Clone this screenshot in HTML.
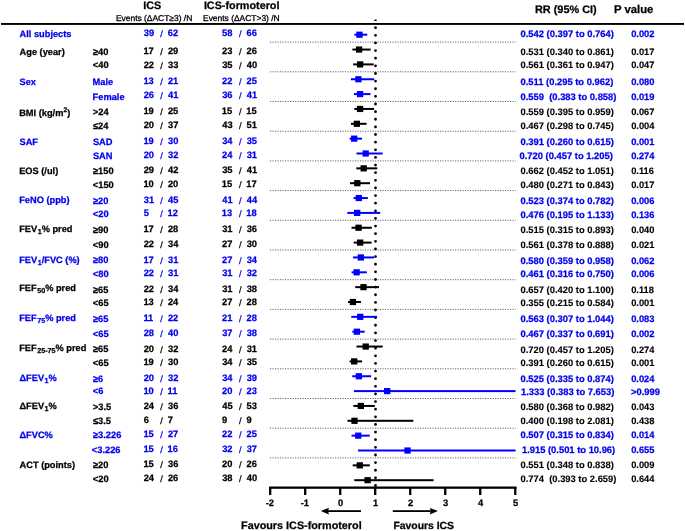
<!DOCTYPE html><html><head><meta charset="utf-8"><style>
html,body{margin:0;padding:0;background:#fff;width:685px;height:531px;overflow:hidden}
svg{display:block;text-rendering:geometricPrecision;font-family:"Liberation Sans",Arial,sans-serif;font-weight:bold}
.b{fill:#0000ee;stroke:#0000ee}.k{fill:#000;stroke:#000}
text{stroke-width:0.25px}.r.k{stroke-width:0.12px}
.t{font-size:9.3px}
.g{font-size:9.25px}
.h{font-size:10.8px}
.s{font-size:8.45px;font-weight:normal;stroke:#000;stroke-width:0.3px}
.sl{font-weight:normal;stroke-width:0.25px}.sl.b{stroke:#0000ee}.sl.k{stroke:#000}
.sub{font-size:7.2px;baseline-shift:-2.2px}
.sup{font-size:6.8px;baseline-shift:4.3px}
</style></head><body>
<svg width="685" height="531" viewBox="0 0 685 531">
<text x="143.28" y="8.80" class="h k" style="font-size:10.8px">ICS</text>
<text x="115.91" y="20.90" class="s k" style="font-size:8.45px">Events (ΔACT≥3) /N</text>
<text x="203.88" y="9.00" class="h k" style="font-size:10.8px">ICS-formoterol</text>
<text x="203.01" y="20.80" class="s k" style="font-size:8.45px">Events (ΔACT&gt;3) /N</text>
<text x="534.97" y="13.20" class="h k" style="font-size:10.9px">RR (95% CI)</text>
<text x="614.04" y="13.20" class="h k" style="font-size:11.3px">P value</text>
<rect x="1" y="23" width="683" height="1.9" fill="#000"/>
<text x="19.57" y="36.55" class="g b" style="font-size:9.25px">All subjects</text>
<text x="143.79" y="35.95" class="t b" style="font-size:9.3px">39</text>
<text x="160.30" y="36.95" class="sl b" style="font-size:9.3px">/</text>
<text x="167.86" y="35.95" class="t b" style="font-size:9.3px">62</text>
<text x="222.11" y="35.95" class="t b" style="font-size:9.3px">58</text>
<text x="238.90" y="36.95" class="sl b" style="font-size:9.3px">/</text>
<text x="246.56" y="35.95" class="t b" style="font-size:9.3px">66</text>
<text x="520.53" y="36.65" class="t r b" style="font-size:9.4px">0.542 (0.397 to 0.764)</text>
<text x="631.13" y="36.75" class="t r b" style="font-size:9.3px">0.002</text>
<text x="19.57" y="54.70" class="g k" style="font-size:9.25px">Age (year)</text>
<text x="92.98" y="54.80" class="t k" style="font-size:9.3px">≥40</text>
<text x="143.41" y="54.10" class="t k" style="font-size:9.3px">17</text>
<text x="160.30" y="55.10" class="sl k" style="font-size:9.3px">/</text>
<text x="167.88" y="54.10" class="t k" style="font-size:9.3px">29</text>
<text x="222.08" y="54.10" class="t k" style="font-size:9.3px">23</text>
<text x="238.90" y="55.10" class="sl k" style="font-size:9.3px">/</text>
<text x="246.58" y="54.10" class="t k" style="font-size:9.3px">26</text>
<text x="520.53" y="54.80" class="t r k" style="font-size:9.4px">0.531 (0.340 to 0.861)</text>
<text x="631.13" y="54.90" class="t r k" style="font-size:9.3px">0.017</text>
<text x="92.81" y="68.30" class="t k" style="font-size:9.3px">&lt;40</text>
<text x="143.68" y="67.60" class="t k" style="font-size:9.3px">22</text>
<text x="160.30" y="68.60" class="sl k" style="font-size:9.3px">/</text>
<text x="167.99" y="67.60" class="t k" style="font-size:9.3px">33</text>
<text x="222.19" y="67.60" class="t k" style="font-size:9.3px">35</text>
<text x="238.90" y="68.60" class="sl k" style="font-size:9.3px">/</text>
<text x="246.76" y="67.60" class="t k" style="font-size:9.3px">40</text>
<text x="520.53" y="68.30" class="t r k" style="font-size:9.4px">0.561 (0.361 to 0.947)</text>
<text x="631.13" y="68.40" class="t r k" style="font-size:9.3px">0.047</text>
<text x="19.53" y="84.50" class="g b" style="font-size:9.25px">Sex</text>
<text x="92.58" y="84.60" class="t b" style="font-size:9.3px">Male</text>
<text x="143.41" y="83.90" class="t b" style="font-size:9.3px">13</text>
<text x="160.30" y="84.90" class="sl b" style="font-size:9.3px">/</text>
<text x="167.88" y="83.90" class="t b" style="font-size:9.3px">21</text>
<text x="222.08" y="83.90" class="t b" style="font-size:9.3px">22</text>
<text x="238.90" y="84.90" class="sl b" style="font-size:9.3px">/</text>
<text x="246.58" y="83.90" class="t b" style="font-size:9.3px">25</text>
<text x="520.53" y="84.60" class="t r b" style="font-size:9.4px">0.511 (0.295 to 0.962)</text>
<text x="631.13" y="84.70" class="t r b" style="font-size:9.3px">0.080</text>
<text x="92.58" y="99.90" class="t b" style="font-size:9.3px">Female</text>
<text x="143.68" y="98.40" class="t b" style="font-size:9.3px">26</text>
<text x="160.30" y="99.40" class="sl b" style="font-size:9.3px">/</text>
<text x="168.06" y="98.40" class="t b" style="font-size:9.3px">41</text>
<text x="222.19" y="98.40" class="t b" style="font-size:9.3px">36</text>
<text x="238.90" y="99.40" class="sl b" style="font-size:9.3px">/</text>
<text x="246.76" y="98.40" class="t b" style="font-size:9.3px">41</text>
<text x="520.53" y="100.20" class="t r b" style="font-size:9.4px">0.559  (0.383 to 0.858)</text>
<text x="631.13" y="100.30" class="t r b" style="font-size:9.3px">0.019</text>
<text x="19.18" y="116.00" class="g k" style="font-size:9.25px">BMI (kg/m<tspan class='sup'>2</tspan><tspan>)</tspan></text>
<text x="92.81" y="114.50" class="t k" style="font-size:9.3px">&gt;24</text>
<text x="143.41" y="113.80" class="t k" style="font-size:9.3px">19</text>
<text x="160.30" y="114.80" class="sl k" style="font-size:9.3px">/</text>
<text x="167.88" y="113.80" class="t k" style="font-size:9.3px">25</text>
<text x="221.81" y="113.80" class="t k" style="font-size:9.3px">15</text>
<text x="238.90" y="114.80" class="sl k" style="font-size:9.3px">/</text>
<text x="246.31" y="113.80" class="t k" style="font-size:9.3px">15</text>
<text x="520.53" y="114.50" class="t r k" style="font-size:9.4px">0.559 (0.395 to 0.959)</text>
<text x="631.13" y="114.60" class="t r k" style="font-size:9.3px">0.067</text>
<text x="92.98" y="128.75" class="t k" style="font-size:9.3px">≤24</text>
<text x="143.68" y="128.05" class="t k" style="font-size:9.3px">20</text>
<text x="160.30" y="129.05" class="sl k" style="font-size:9.3px">/</text>
<text x="167.99" y="128.05" class="t k" style="font-size:9.3px">37</text>
<text x="222.26" y="128.05" class="t k" style="font-size:9.3px">43</text>
<text x="238.90" y="129.05" class="sl k" style="font-size:9.3px">/</text>
<text x="246.61" y="128.05" class="t k" style="font-size:9.3px">51</text>
<text x="520.53" y="128.75" class="t r k" style="font-size:9.4px">0.467 (0.298 to 0.745)</text>
<text x="631.13" y="128.85" class="t r k" style="font-size:9.3px">0.004</text>
<text x="19.53" y="144.80" class="g b" style="font-size:9.25px">SAF</text>
<text x="92.93" y="144.80" class="t b" style="font-size:9.3px">SAD</text>
<text x="143.41" y="143.70" class="t b" style="font-size:9.3px">19</text>
<text x="160.30" y="144.70" class="sl b" style="font-size:9.3px">/</text>
<text x="167.99" y="143.70" class="t b" style="font-size:9.3px">30</text>
<text x="222.19" y="143.70" class="t b" style="font-size:9.3px">34</text>
<text x="238.90" y="144.70" class="sl b" style="font-size:9.3px">/</text>
<text x="246.69" y="143.70" class="t b" style="font-size:9.3px">35</text>
<text x="520.53" y="145.30" class="t r b" style="font-size:9.4px">0.391 (0.260 to 0.615)</text>
<text x="631.13" y="145.40" class="t r b" style="font-size:9.3px">0.001</text>
<text x="92.93" y="159.05" class="t b" style="font-size:9.3px">SAN</text>
<text x="143.68" y="157.95" class="t b" style="font-size:9.3px">20</text>
<text x="160.30" y="158.95" class="sl b" style="font-size:9.3px">/</text>
<text x="167.99" y="157.95" class="t b" style="font-size:9.3px">32</text>
<text x="222.08" y="157.95" class="t b" style="font-size:9.3px">24</text>
<text x="238.90" y="158.95" class="sl b" style="font-size:9.3px">/</text>
<text x="246.69" y="157.95" class="t b" style="font-size:9.3px">31</text>
<text x="519.53" y="159.25" class="t r b" style="font-size:9.4px">0.720 (0.457 to 1.205)</text>
<text x="631.13" y="159.35" class="t r b" style="font-size:9.3px">0.274</text>
<text x="19.18" y="174.00" class="g k" style="font-size:9.25px">EOS (/ul)</text>
<text x="92.98" y="173.80" class="t k" style="font-size:9.3px">≥150</text>
<text x="143.68" y="172.80" class="t k" style="font-size:9.3px">29</text>
<text x="160.30" y="173.80" class="sl k" style="font-size:9.3px">/</text>
<text x="168.06" y="172.80" class="t k" style="font-size:9.3px">42</text>
<text x="222.19" y="172.80" class="t k" style="font-size:9.3px">35</text>
<text x="238.90" y="173.80" class="sl k" style="font-size:9.3px">/</text>
<text x="246.76" y="172.80" class="t k" style="font-size:9.3px">41</text>
<text x="520.53" y="173.50" class="t r k" style="font-size:9.4px">0.662 (0.452 to 1.051)</text>
<text x="631.13" y="173.60" class="t r k" style="font-size:9.3px">0.116</text>
<text x="92.81" y="187.90" class="t k" style="font-size:9.3px">&lt;150</text>
<text x="143.41" y="186.90" class="t k" style="font-size:9.3px">10</text>
<text x="160.30" y="187.90" class="sl k" style="font-size:9.3px">/</text>
<text x="167.88" y="186.90" class="t k" style="font-size:9.3px">20</text>
<text x="221.81" y="186.90" class="t k" style="font-size:9.3px">15</text>
<text x="238.90" y="187.90" class="sl k" style="font-size:9.3px">/</text>
<text x="246.31" y="186.90" class="t k" style="font-size:9.3px">17</text>
<text x="520.53" y="187.60" class="t r k" style="font-size:9.4px">0.480 (0.271 to 0.843)</text>
<text x="631.13" y="187.70" class="t r k" style="font-size:9.3px">0.017</text>
<text x="19.18" y="203.35" class="g b" style="font-size:9.25px">FeNO (ppb)</text>
<text x="92.98" y="204.25" class="t b" style="font-size:9.3px">≥20</text>
<text x="143.79" y="202.75" class="t b" style="font-size:9.3px">31</text>
<text x="160.30" y="203.75" class="sl b" style="font-size:9.3px">/</text>
<text x="168.06" y="202.75" class="t b" style="font-size:9.3px">45</text>
<text x="222.26" y="202.75" class="t b" style="font-size:9.3px">41</text>
<text x="238.90" y="203.75" class="sl b" style="font-size:9.3px">/</text>
<text x="246.76" y="202.75" class="t b" style="font-size:9.3px">44</text>
<text x="520.53" y="204.35" class="t r b" style="font-size:9.4px">0.523 (0.374 to 0.782)</text>
<text x="631.13" y="204.45" class="t r b" style="font-size:9.3px">0.006</text>
<text x="92.81" y="217.10" class="t b" style="font-size:9.3px">&lt;20</text>
<text x="143.71" y="216.40" class="t b" style="font-size:9.3px">5</text>
<text x="160.30" y="217.40" class="sl b" style="font-size:9.3px">/</text>
<text x="167.61" y="216.40" class="t b" style="font-size:9.3px">12</text>
<text x="221.81" y="216.40" class="t b" style="font-size:9.3px">13</text>
<text x="238.90" y="217.40" class="sl b" style="font-size:9.3px">/</text>
<text x="246.31" y="216.40" class="t b" style="font-size:9.3px">18</text>
<text x="520.53" y="217.60" class="t r b" style="font-size:9.4px">0.476 (0.195 to 1.133)</text>
<text x="631.13" y="217.70" class="t r b" style="font-size:9.3px">0.136</text>
<text x="19.18" y="232.10" class="g k" style="font-size:9.25px">FEV<tspan class='sub' dx='0.5'>1</tspan><tspan>% pred</tspan></text>
<text x="92.98" y="232.70" class="t k" style="font-size:9.3px">≥90</text>
<text x="143.41" y="232.00" class="t k" style="font-size:9.3px">17</text>
<text x="160.30" y="233.00" class="sl k" style="font-size:9.3px">/</text>
<text x="167.88" y="232.00" class="t k" style="font-size:9.3px">28</text>
<text x="222.19" y="232.00" class="t k" style="font-size:9.3px">31</text>
<text x="238.90" y="233.00" class="sl k" style="font-size:9.3px">/</text>
<text x="246.69" y="232.00" class="t k" style="font-size:9.3px">36</text>
<text x="520.53" y="232.70" class="t r k" style="font-size:9.4px">0.515 (0.315 to 0.893)</text>
<text x="631.13" y="232.80" class="t r k" style="font-size:9.3px">0.040</text>
<text x="92.81" y="247.65" class="t k" style="font-size:9.3px">&lt;90</text>
<text x="143.68" y="246.95" class="t k" style="font-size:9.3px">22</text>
<text x="160.30" y="247.95" class="sl k" style="font-size:9.3px">/</text>
<text x="167.99" y="246.95" class="t k" style="font-size:9.3px">34</text>
<text x="222.08" y="246.95" class="t k" style="font-size:9.3px">27</text>
<text x="238.90" y="247.95" class="sl k" style="font-size:9.3px">/</text>
<text x="246.69" y="246.95" class="t k" style="font-size:9.3px">30</text>
<text x="520.53" y="247.65" class="t r k" style="font-size:9.4px">0.561 (0.378 to 0.888)</text>
<text x="631.13" y="247.75" class="t r k" style="font-size:9.3px">0.021</text>
<text x="19.18" y="263.30" class="g b" style="font-size:9.25px">FEV<tspan class='sub' dx='0.5'>1</tspan><tspan>/FVC (%)</tspan></text>
<text x="92.98" y="263.40" class="t b" style="font-size:9.3px">≥80</text>
<text x="143.41" y="262.70" class="t b" style="font-size:9.3px">17</text>
<text x="160.30" y="263.70" class="sl b" style="font-size:9.3px">/</text>
<text x="167.99" y="262.70" class="t b" style="font-size:9.3px">31</text>
<text x="222.08" y="262.70" class="t b" style="font-size:9.3px">27</text>
<text x="238.90" y="263.70" class="sl b" style="font-size:9.3px">/</text>
<text x="246.69" y="262.70" class="t b" style="font-size:9.3px">34</text>
<text x="520.53" y="264.30" class="t r b" style="font-size:9.4px">0.580 (0.359 to 0.958)</text>
<text x="631.13" y="264.40" class="t r b" style="font-size:9.3px">0.062</text>
<text x="92.81" y="276.60" class="t b" style="font-size:9.3px">&lt;80</text>
<text x="143.68" y="275.90" class="t b" style="font-size:9.3px">22</text>
<text x="160.30" y="276.90" class="sl b" style="font-size:9.3px">/</text>
<text x="167.99" y="275.90" class="t b" style="font-size:9.3px">31</text>
<text x="222.19" y="275.90" class="t b" style="font-size:9.3px">31</text>
<text x="238.90" y="276.90" class="sl b" style="font-size:9.3px">/</text>
<text x="246.69" y="275.90" class="t b" style="font-size:9.3px">32</text>
<text x="520.53" y="276.90" class="t r b" style="font-size:9.4px">0.461 (0.316 to 0.750)</text>
<text x="631.13" y="277.00" class="t r b" style="font-size:9.3px">0.006</text>
<text x="19.18" y="291.30" class="g k" style="font-size:9.25px">FEF<tspan class='sub' dx='0.5'>50</tspan><tspan>% pred</tspan></text>
<text x="92.98" y="292.60" class="t k" style="font-size:9.3px">≥65</text>
<text x="143.68" y="291.90" class="t k" style="font-size:9.3px">22</text>
<text x="160.30" y="292.90" class="sl k" style="font-size:9.3px">/</text>
<text x="167.99" y="291.90" class="t k" style="font-size:9.3px">34</text>
<text x="222.19" y="291.90" class="t k" style="font-size:9.3px">31</text>
<text x="238.90" y="292.90" class="sl k" style="font-size:9.3px">/</text>
<text x="246.69" y="291.90" class="t k" style="font-size:9.3px">38</text>
<text x="520.53" y="292.60" class="t r k" style="font-size:9.4px">0.657 (0.420 to 1.100)</text>
<text x="631.13" y="292.70" class="t r k" style="font-size:9.3px">0.118</text>
<text x="92.81" y="305.70" class="t k" style="font-size:9.3px">&lt;65</text>
<text x="143.41" y="305.00" class="t k" style="font-size:9.3px">13</text>
<text x="160.30" y="306.00" class="sl k" style="font-size:9.3px">/</text>
<text x="167.88" y="305.00" class="t k" style="font-size:9.3px">24</text>
<text x="222.08" y="305.00" class="t k" style="font-size:9.3px">27</text>
<text x="238.90" y="306.00" class="sl k" style="font-size:9.3px">/</text>
<text x="246.58" y="305.00" class="t k" style="font-size:9.3px">28</text>
<text x="520.53" y="305.70" class="t r k" style="font-size:9.4px">0.355 (0.215 to 0.584)</text>
<text x="631.13" y="305.80" class="t r k" style="font-size:9.3px">0.001</text>
<text x="19.18" y="320.50" class="g b" style="font-size:9.25px">FEF<tspan class='sub' dx='0.5'>75</tspan><tspan>% pred</tspan></text>
<text x="92.98" y="321.80" class="t b" style="font-size:9.3px">≥65</text>
<text x="143.41" y="321.10" class="t b" style="font-size:9.3px">11</text>
<text x="160.30" y="322.10" class="sl b" style="font-size:9.3px">/</text>
<text x="167.88" y="321.10" class="t b" style="font-size:9.3px">22</text>
<text x="222.08" y="321.10" class="t b" style="font-size:9.3px">21</text>
<text x="238.90" y="322.10" class="sl b" style="font-size:9.3px">/</text>
<text x="246.58" y="321.10" class="t b" style="font-size:9.3px">28</text>
<text x="520.53" y="321.80" class="t r b" style="font-size:9.4px">0.563 (0.307 to 1.044)</text>
<text x="631.13" y="321.90" class="t r b" style="font-size:9.3px">0.083</text>
<text x="92.81" y="336.60" class="t b" style="font-size:9.3px">&lt;65</text>
<text x="143.68" y="335.90" class="t b" style="font-size:9.3px">28</text>
<text x="160.30" y="336.90" class="sl b" style="font-size:9.3px">/</text>
<text x="168.06" y="335.90" class="t b" style="font-size:9.3px">40</text>
<text x="222.19" y="335.90" class="t b" style="font-size:9.3px">37</text>
<text x="238.90" y="336.90" class="sl b" style="font-size:9.3px">/</text>
<text x="246.69" y="335.90" class="t b" style="font-size:9.3px">38</text>
<text x="520.53" y="337.00" class="t r b" style="font-size:9.4px">0.467 (0.337 to 0.691)</text>
<text x="631.13" y="337.10" class="t r b" style="font-size:9.3px">0.002</text>
<text x="19.18" y="351.40" class="g k" style="font-size:9.25px">FEF<tspan class='sub' dx='0.5'>25-75</tspan><tspan>% pred</tspan></text>
<text x="92.98" y="352.20" class="t k" style="font-size:9.3px">≥65</text>
<text x="143.68" y="351.50" class="t k" style="font-size:9.3px">20</text>
<text x="160.30" y="352.50" class="sl k" style="font-size:9.3px">/</text>
<text x="167.99" y="351.50" class="t k" style="font-size:9.3px">32</text>
<text x="222.08" y="351.50" class="t k" style="font-size:9.3px">24</text>
<text x="238.90" y="352.50" class="sl k" style="font-size:9.3px">/</text>
<text x="246.69" y="351.50" class="t k" style="font-size:9.3px">31</text>
<text x="520.53" y="353.00" class="t r k" style="font-size:9.4px">0.720 (0.457 to 1.205)</text>
<text x="631.13" y="353.10" class="t r k" style="font-size:9.3px">0.274</text>
<text x="92.81" y="365.70" class="t k" style="font-size:9.3px">&lt;65</text>
<text x="143.41" y="365.00" class="t k" style="font-size:9.3px">19</text>
<text x="160.30" y="366.00" class="sl k" style="font-size:9.3px">/</text>
<text x="167.99" y="365.00" class="t k" style="font-size:9.3px">30</text>
<text x="222.19" y="365.00" class="t k" style="font-size:9.3px">34</text>
<text x="238.90" y="366.00" class="sl k" style="font-size:9.3px">/</text>
<text x="246.69" y="365.00" class="t k" style="font-size:9.3px">35</text>
<text x="520.53" y="366.00" class="t r k" style="font-size:9.4px">0.391 (0.260 to 0.615)</text>
<text x="631.13" y="366.10" class="t r k" style="font-size:9.3px">0.001</text>
<text x="19.43" y="380.85" class="g b" style="font-size:9.25px">ΔFEV<tspan class='sub' dx='0.5'>1</tspan><tspan>%</tspan></text>
<text x="92.98" y="381.65" class="t b" style="font-size:9.3px">≥6</text>
<text x="143.68" y="380.95" class="t b" style="font-size:9.3px">20</text>
<text x="160.30" y="381.95" class="sl b" style="font-size:9.3px">/</text>
<text x="167.99" y="380.95" class="t b" style="font-size:9.3px">32</text>
<text x="222.19" y="380.95" class="t b" style="font-size:9.3px">34</text>
<text x="238.90" y="381.95" class="sl b" style="font-size:9.3px">/</text>
<text x="246.69" y="380.95" class="t b" style="font-size:9.3px">39</text>
<text x="520.53" y="381.65" class="t r b" style="font-size:9.4px">0.525 (0.335 to 0.874)</text>
<text x="631.13" y="381.75" class="t r b" style="font-size:9.3px">0.024</text>
<text x="92.81" y="394.20" class="t b" style="font-size:9.3px">&lt;6</text>
<text x="143.41" y="393.50" class="t b" style="font-size:9.3px">10</text>
<text x="160.30" y="394.50" class="sl b" style="font-size:9.3px">/</text>
<text x="167.61" y="393.50" class="t b" style="font-size:9.3px">11</text>
<text x="222.08" y="393.50" class="t b" style="font-size:9.3px">20</text>
<text x="238.90" y="394.50" class="sl b" style="font-size:9.3px">/</text>
<text x="246.58" y="393.50" class="t b" style="font-size:9.3px">23</text>
<text x="521.03" y="394.70" class="t r b" style="font-size:9.4px">1.333 (0.383 to 7.653)</text>
<text x="631.11" y="394.80" class="t r b" style="font-size:9.3px">&gt;0.999</text>
<text x="19.43" y="408.80" class="g k" style="font-size:9.25px">ΔFEV<tspan class='sub' dx='0.5'>1</tspan><tspan>%</tspan></text>
<text x="92.81" y="409.70" class="t k" style="font-size:9.3px">&gt;3.5</text>
<text x="143.68" y="409.00" class="t k" style="font-size:9.3px">24</text>
<text x="160.30" y="410.00" class="sl k" style="font-size:9.3px">/</text>
<text x="167.99" y="409.00" class="t k" style="font-size:9.3px">36</text>
<text x="222.26" y="409.00" class="t k" style="font-size:9.3px">45</text>
<text x="238.90" y="410.00" class="sl k" style="font-size:9.3px">/</text>
<text x="246.61" y="409.00" class="t k" style="font-size:9.3px">53</text>
<text x="520.53" y="409.70" class="t r k" style="font-size:9.4px">0.580 (0.368 to 0.982)</text>
<text x="631.13" y="409.80" class="t r k" style="font-size:9.3px">0.043</text>
<text x="92.98" y="424.00" class="t k" style="font-size:9.3px">≤3.5</text>
<text x="143.66" y="423.30" class="t k" style="font-size:9.3px">6</text>
<text x="160.30" y="424.30" class="sl k" style="font-size:9.3px">/</text>
<text x="167.80" y="423.30" class="t k" style="font-size:9.3px">7</text>
<text x="222.08" y="423.30" class="t k" style="font-size:9.3px">9</text>
<text x="238.90" y="424.30" class="sl k" style="font-size:9.3px">/</text>
<text x="246.58" y="423.30" class="t k" style="font-size:9.3px">9</text>
<text x="520.53" y="424.00" class="t r k" style="font-size:9.4px">0.400 (0.198 to 2.081)</text>
<text x="631.13" y="424.10" class="t r k" style="font-size:9.3px">0.438</text>
<text x="19.43" y="437.70" class="g b" style="font-size:9.25px">ΔFVC%</text>
<text x="92.98" y="437.80" class="t b" style="font-size:9.3px">≥3.226</text>
<text x="143.41" y="437.10" class="t b" style="font-size:9.3px">15</text>
<text x="160.30" y="438.10" class="sl b" style="font-size:9.3px">/</text>
<text x="167.88" y="437.10" class="t b" style="font-size:9.3px">27</text>
<text x="222.08" y="437.10" class="t b" style="font-size:9.3px">22</text>
<text x="238.90" y="438.10" class="sl b" style="font-size:9.3px">/</text>
<text x="246.58" y="437.10" class="t b" style="font-size:9.3px">25</text>
<text x="520.53" y="437.80" class="t r b" style="font-size:9.4px">0.507 (0.315 to 0.834)</text>
<text x="631.13" y="437.90" class="t r b" style="font-size:9.3px">0.014</text>
<text x="91.81" y="452.70" class="t b" style="font-size:9.3px">&lt;3.226</text>
<text x="143.41" y="452.00" class="t b" style="font-size:9.3px">15</text>
<text x="160.30" y="453.00" class="sl b" style="font-size:9.3px">/</text>
<text x="167.61" y="452.00" class="t b" style="font-size:9.3px">16</text>
<text x="222.19" y="452.00" class="t b" style="font-size:9.3px">32</text>
<text x="238.90" y="453.00" class="sl b" style="font-size:9.3px">/</text>
<text x="246.69" y="452.00" class="t b" style="font-size:9.3px">37</text>
<text x="521.93" y="452.70" class="t r b" style="font-size:9.4px">1.915 (0.501 to 10.96)</text>
<text x="631.13" y="452.80" class="t r b" style="font-size:9.3px">0.655</text>
<text x="19.57" y="467.50" class="g k" style="font-size:9.25px">ACT (points)</text>
<text x="92.98" y="467.60" class="t k" style="font-size:9.3px">≥20</text>
<text x="143.41" y="466.90" class="t k" style="font-size:9.3px">15</text>
<text x="160.30" y="467.90" class="sl k" style="font-size:9.3px">/</text>
<text x="167.99" y="466.90" class="t k" style="font-size:9.3px">36</text>
<text x="222.08" y="466.90" class="t k" style="font-size:9.3px">20</text>
<text x="238.90" y="467.90" class="sl k" style="font-size:9.3px">/</text>
<text x="246.58" y="466.90" class="t k" style="font-size:9.3px">26</text>
<text x="520.53" y="467.60" class="t r k" style="font-size:9.4px">0.551 (0.348 to 0.838)</text>
<text x="631.13" y="467.70" class="t r k" style="font-size:9.3px">0.009</text>
<text x="92.81" y="481.50" class="t k" style="font-size:9.3px">&lt;20</text>
<text x="143.68" y="480.80" class="t k" style="font-size:9.3px">24</text>
<text x="160.30" y="481.80" class="sl k" style="font-size:9.3px">/</text>
<text x="167.88" y="480.80" class="t k" style="font-size:9.3px">26</text>
<text x="222.19" y="480.80" class="t k" style="font-size:9.3px">38</text>
<text x="238.90" y="481.80" class="sl k" style="font-size:9.3px">/</text>
<text x="246.76" y="480.80" class="t k" style="font-size:9.3px">40</text>
<text x="520.53" y="481.50" class="t r k" style="font-size:9.4px">0.774  (0.393 to 2.659)</text>
<text x="631.13" y="481.60" class="t r k" style="font-size:9.3px">0.644</text>
<line x1="270" y1="42.10" x2="515.6" y2="42.10" stroke="#666" stroke-width="1" stroke-dasharray="1.2 1.3"/>
<line x1="270" y1="71.80" x2="515.6" y2="71.80" stroke="#666" stroke-width="1" stroke-dasharray="1.2 1.3"/>
<line x1="270" y1="101.50" x2="515.6" y2="101.50" stroke="#666" stroke-width="1" stroke-dasharray="1.2 1.3"/>
<line x1="270" y1="131.20" x2="515.6" y2="131.20" stroke="#666" stroke-width="1" stroke-dasharray="1.2 1.3"/>
<line x1="270" y1="160.90" x2="515.6" y2="160.90" stroke="#666" stroke-width="1" stroke-dasharray="1.2 1.3"/>
<line x1="270" y1="190.60" x2="515.6" y2="190.60" stroke="#666" stroke-width="1" stroke-dasharray="1.2 1.3"/>
<line x1="270" y1="220.30" x2="515.6" y2="220.30" stroke="#666" stroke-width="1" stroke-dasharray="1.2 1.3"/>
<line x1="270" y1="250.00" x2="515.6" y2="250.00" stroke="#666" stroke-width="1" stroke-dasharray="1.2 1.3"/>
<line x1="270" y1="279.70" x2="515.6" y2="279.70" stroke="#666" stroke-width="1" stroke-dasharray="1.2 1.3"/>
<line x1="270" y1="309.40" x2="515.6" y2="309.40" stroke="#666" stroke-width="1" stroke-dasharray="1.2 1.3"/>
<line x1="270" y1="339.10" x2="515.6" y2="339.10" stroke="#666" stroke-width="1" stroke-dasharray="1.2 1.3"/>
<line x1="270" y1="368.80" x2="515.6" y2="368.80" stroke="#666" stroke-width="1" stroke-dasharray="1.2 1.3"/>
<line x1="270" y1="398.50" x2="515.6" y2="398.50" stroke="#666" stroke-width="1" stroke-dasharray="1.2 1.3"/>
<line x1="270" y1="428.20" x2="515.6" y2="428.20" stroke="#666" stroke-width="1" stroke-dasharray="1.2 1.3"/>
<line x1="270" y1="457.90" x2="515.6" y2="457.90" stroke="#666" stroke-width="1" stroke-dasharray="1.2 1.3"/>
<line x1="375.51" y1="27.7" x2="375.51" y2="487" stroke="#000" stroke-width="2.8" stroke-linecap="round" stroke-dasharray="0 7.63"/>
<rect x="374.31" y="19.6" width="2.4" height="1.4" rx="0.6" fill="#000"/>
<rect x="354.40" y="33.70" width="12.85" height="2" fill="#0000ff"/>
<rect x="356.33" y="31.60" width="6.3" height="6.2" fill="#0000ff"/>
<rect x="352.40" y="48.55" width="18.24" height="2" fill="#000"/>
<rect x="355.94" y="46.45" width="6.3" height="6.2" fill="#000"/>
<rect x="353.14" y="63.40" width="20.52" height="2" fill="#000"/>
<rect x="356.99" y="61.30" width="6.3" height="6.2" fill="#000"/>
<rect x="350.83" y="78.25" width="23.35" height="2" fill="#0000ff"/>
<rect x="355.24" y="76.15" width="6.3" height="6.2" fill="#0000ff"/>
<rect x="353.91" y="93.10" width="16.63" height="2" fill="#0000ff"/>
<rect x="356.92" y="91.00" width="6.3" height="6.2" fill="#0000ff"/>
<rect x="354.33" y="107.95" width="19.75" height="2" fill="#000"/>
<rect x="356.92" y="105.85" width="6.3" height="6.2" fill="#000"/>
<rect x="350.93" y="122.80" width="15.65" height="2" fill="#000"/>
<rect x="353.70" y="120.70" width="6.3" height="6.2" fill="#000"/>
<rect x="349.60" y="137.65" width="12.43" height="2" fill="#0000ff"/>
<rect x="351.04" y="135.55" width="6.3" height="6.2" fill="#0000ff"/>
<rect x="356.50" y="152.50" width="26.19" height="2" fill="#0000ff"/>
<rect x="362.56" y="150.40" width="6.3" height="6.2" fill="#0000ff"/>
<rect x="356.32" y="167.35" width="20.97" height="2" fill="#000"/>
<rect x="360.53" y="165.25" width="6.3" height="6.2" fill="#000"/>
<rect x="349.99" y="182.20" width="20.03" height="2" fill="#000"/>
<rect x="354.15" y="180.10" width="6.3" height="6.2" fill="#000"/>
<rect x="353.59" y="197.05" width="14.28" height="2" fill="#0000ff"/>
<rect x="355.66" y="194.95" width="6.3" height="6.2" fill="#0000ff"/>
<rect x="347.33" y="211.90" width="32.84" height="2" fill="#0000ff"/>
<rect x="354.01" y="209.80" width="6.3" height="6.2" fill="#0000ff"/>
<rect x="351.53" y="226.75" width="20.24" height="2" fill="#000"/>
<rect x="355.38" y="224.65" width="6.3" height="6.2" fill="#000"/>
<rect x="353.73" y="241.60" width="17.86" height="2" fill="#000"/>
<rect x="356.99" y="239.50" width="6.3" height="6.2" fill="#000"/>
<rect x="353.07" y="256.45" width="20.97" height="2" fill="#0000ff"/>
<rect x="357.66" y="254.35" width="6.3" height="6.2" fill="#0000ff"/>
<rect x="351.56" y="271.30" width="15.19" height="2" fill="#0000ff"/>
<rect x="353.49" y="269.20" width="6.3" height="6.2" fill="#0000ff"/>
<rect x="355.20" y="286.15" width="23.81" height="2" fill="#000"/>
<rect x="360.35" y="284.05" width="6.3" height="6.2" fill="#000"/>
<rect x="348.03" y="301.00" width="12.92" height="2" fill="#000"/>
<rect x="349.78" y="298.90" width="6.3" height="6.2" fill="#000"/>
<rect x="351.25" y="315.85" width="25.80" height="2" fill="#0000ff"/>
<rect x="357.06" y="313.75" width="6.3" height="6.2" fill="#0000ff"/>
<rect x="352.30" y="330.70" width="12.39" height="2" fill="#0000ff"/>
<rect x="353.70" y="328.60" width="6.3" height="6.2" fill="#0000ff"/>
<rect x="356.50" y="345.55" width="26.19" height="2" fill="#000"/>
<rect x="362.56" y="343.45" width="6.3" height="6.2" fill="#000"/>
<rect x="349.60" y="360.40" width="12.43" height="2" fill="#000"/>
<rect x="351.04" y="358.30" width="6.3" height="6.2" fill="#000"/>
<rect x="352.23" y="375.25" width="18.87" height="2" fill="#0000ff"/>
<rect x="355.73" y="373.15" width="6.3" height="6.2" fill="#0000ff"/>
<rect x="353.91" y="390.10" width="161.69" height="2" fill="#0000ff"/>
<rect x="384.02" y="388.00" width="6.3" height="6.2" fill="#0000ff"/>
<rect x="353.38" y="404.95" width="21.50" height="2" fill="#000"/>
<rect x="357.66" y="402.85" width="6.3" height="6.2" fill="#000"/>
<rect x="347.43" y="419.80" width="65.92" height="2" fill="#000"/>
<rect x="351.35" y="417.70" width="6.3" height="6.2" fill="#000"/>
<rect x="351.53" y="434.65" width="18.17" height="2" fill="#0000ff"/>
<rect x="355.10" y="432.55" width="6.3" height="6.2" fill="#0000ff"/>
<rect x="358.04" y="449.50" width="157.56" height="2" fill="#0000ff"/>
<rect x="404.39" y="447.40" width="6.3" height="6.2" fill="#0000ff"/>
<rect x="352.68" y="464.35" width="17.15" height="2" fill="#000"/>
<rect x="356.64" y="462.25" width="6.3" height="6.2" fill="#000"/>
<rect x="354.26" y="479.20" width="79.33" height="2" fill="#000"/>
<rect x="364.45" y="477.10" width="6.3" height="6.2" fill="#000"/>
<rect x="269.1" y="486.5" width="247.4" height="2.3" fill="#000"/>
<rect x="269.03" y="487" width="2.3" height="8" fill="#000"/>
<text x="269.78" y="506.1" class="t k" text-anchor="middle">-2</text>
<rect x="304.04" y="487" width="2.3" height="8" fill="#000"/>
<text x="304.79" y="506.1" class="t k" text-anchor="middle">-1</text>
<rect x="339.05" y="487" width="2.3" height="8" fill="#000"/>
<text x="340.50" y="506.1" class="t k" text-anchor="middle">0</text>
<rect x="374.06" y="487" width="2.3" height="8" fill="#000"/>
<text x="375.51" y="506.1" class="t k" text-anchor="middle">1</text>
<rect x="409.07" y="487" width="2.3" height="8" fill="#000"/>
<text x="410.52" y="506.1" class="t k" text-anchor="middle">2</text>
<rect x="444.08" y="487" width="2.3" height="8" fill="#000"/>
<text x="445.53" y="506.1" class="t k" text-anchor="middle">3</text>
<rect x="479.09" y="487" width="2.3" height="8" fill="#000"/>
<text x="480.54" y="506.1" class="t k" text-anchor="middle">4</text>
<rect x="514.10" y="487" width="2.3" height="8" fill="#000"/>
<text x="515.55" y="506.1" class="t k" text-anchor="middle">5</text>
<rect x="327" y="510.2" width="34" height="1.8" fill="#000"/>
<path d="M320.8 511.1 L329 507.7 L328 511.1 L329 514.5 Z" fill="#000"/>
<rect x="392.8" y="510.2" width="38" height="1.8" fill="#000"/>
<path d="M437.9 511.1 L429.8 507.9 L430.8 511.1 L429.8 514.4 Z" fill="#000"/>
<text x="241.08" y="529.20" class="h k" style="font-size:10.8px">Favours ICS-formoterol</text>
<text x="393.40" y="529.20" class="h k" style="font-size:10.4px">Favours ICS</text>
</svg></body></html>
